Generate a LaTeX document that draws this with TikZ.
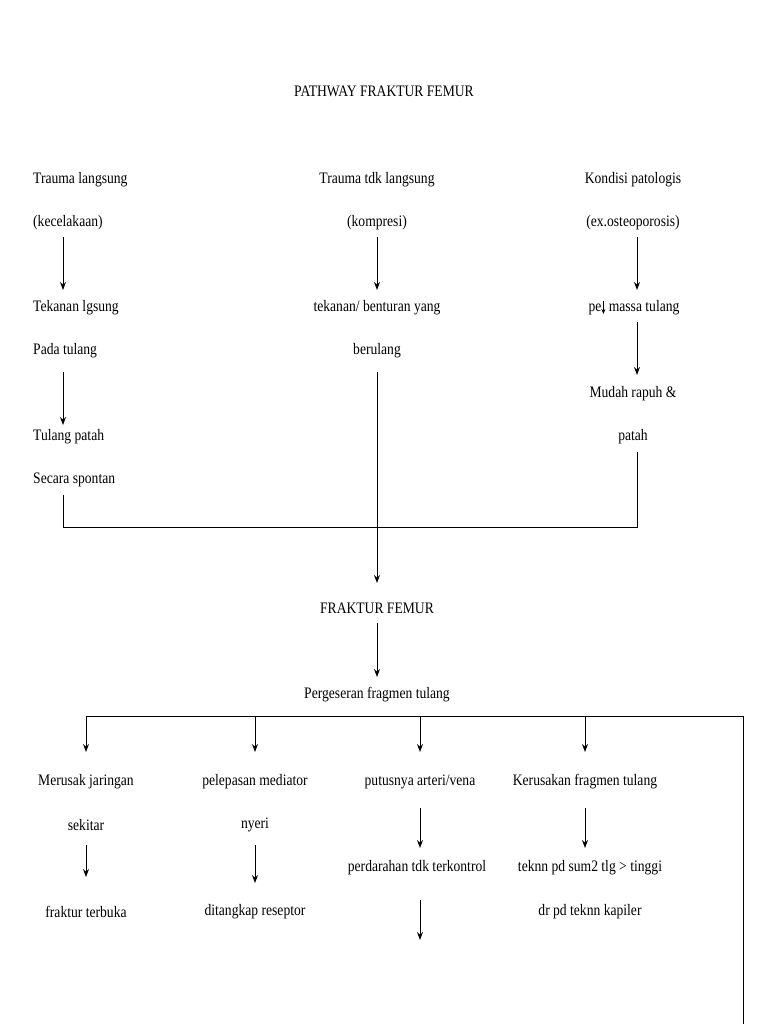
\documentclass[tikz,border=0pt]{standalone}
\usepackage{fontspec}
\setmainfont[FakeStretch=0.85]{Liberation Serif}
\usetikzlibrary{arrows.meta}
\begin{document}
\begin{tikzpicture}[x=1pt,y=-1pt,
  t/.style={inner sep=0pt,font=\fontsize{16}{18}\selectfont},
  lt/.style={t,anchor=west},
  ar/.style={-{Stealth[length=8pt,width=6pt]},line width=1pt},
  ln/.style={line width=1pt}]
\useasboundingbox (0,0) rectangle (768,1024);
\node[t] (title) at (384,91) {PATHWAY FRAKTUR FEMUR};
% left
\node[lt] (l1) at (33,180) {Trauma langsung};
\node[lt] (l2) at (33,223) {(kecelakaan)};
\node[lt] (l3) at (33,308) {Tekanan lgsung};
\node[lt] (l4) at (33,351) {Pada tulang};
\node[lt] (l5) at (33,437) {Tulang patah};
\node[lt] (l6) at (33,480) {Secara spontan};
\coordinate (la1) at (63,237); \coordinate (la2) at (63,290);
\coordinate (lb1) at (63,372); \coordinate (lb2) at (63,425);
\draw[ar] (la1) -- (la2);
\draw[ar] (lb1) -- (lb2);
% middle
\node[t] (m1) at (377,180) {Trauma tdk langsung};
\node[t] (m2) at (377,223) {(kompresi)};
\node[t] (m3) at (377,308) {tekanan/ benturan yang};
\node[t] (m4) at (377,351) {berulang};
\coordinate (ma1) at (377,237); \coordinate (ma2) at (377,290);
\draw[ar] (ma1) -- (ma2);
% right
\node[t] (r1) at (633,180) {Kondisi patologis};
\node[t] (r2) at (633,223) {(ex.osteoporosis)};
\node[t] (r3) at (634,308) {pe\tikz[baseline=0pt]\draw[-{Stealth[length=5pt,width=4pt]},line width=0.7pt](0,11pt)--(0,-2pt);\ massa tulang};
\node[t] (r4) at (633,394) {Mudah rapuh \&};
\node[t] (r5) at (633,437) {patah};
\coordinate (ra1) at (637,237); \coordinate (ra2) at (637,290);
\coordinate (rb1) at (637,322); \coordinate (rb2) at (637,375);
\draw[ar] (ra1) -- (ra2);
\draw[ar] (rb1) -- (rb2);
% join
\coordinate (j1) at (63,495); \coordinate (j2) at (63,527);
\coordinate (j3) at (637,452); \coordinate (j4) at (637,527);
\coordinate (m5) at (377,372);
\draw[ln] (j1) -- (j2) -- (j4) -- (j3);
\node[t] (ff) at (377,608) {FRAKTUR FEMUR};
\node[t] (pg) at (377,695) {Pergeseran fragmen tulang};
\draw[ar] (m5) -- (377,583);
\draw[ar] (377,623) -- (377,677);
% branch
\coordinate (b0) at (86,716); \coordinate (b5) at (743,716); \coordinate (b6) at (743,1024);
\draw[ln] (b0) -- (b5) -- (b6);
\foreach \x in {86,255,420,585} \draw[ar] (\x,716) -- (\x,752);
\node[t] (a1) at (86,782) {Merusak jaringan};
\node[t] (a2) at (86,825) {sekitar};
\node[t] (a3) at (86,912) {fraktur terbuka};
\draw[ar] (86,845) -- (86,877);
\node[t] (b1) at (255,782) {pelepasan mediator};
\node[t] (b2) at (255,825) {nyeri};
\node[t] (b3) at (255,912) {ditangkap reseptor};
\draw[ar] (255,845) -- (255,883);
\node[t] (c1) at (420,782) {putusnya arteri/vena};
\node[t] (c2) at (417,868) {perdarahan tdk terkontrol};
\draw[ar] (420,808) -- (420,848);
\draw[ar] (420,900) -- (420,940);
\node[t] (d1) at (585,782) {Kerusakan fragmen tulang};
\node[t] (d2) at (590,868) {teknn pd sum2 tlg > tinggi};
\node[t] (d3) at (590,912) {dr pd teknn kapiler};
\draw[ar] (585,808) -- (585,848);
\end{tikzpicture}
\end{document}
